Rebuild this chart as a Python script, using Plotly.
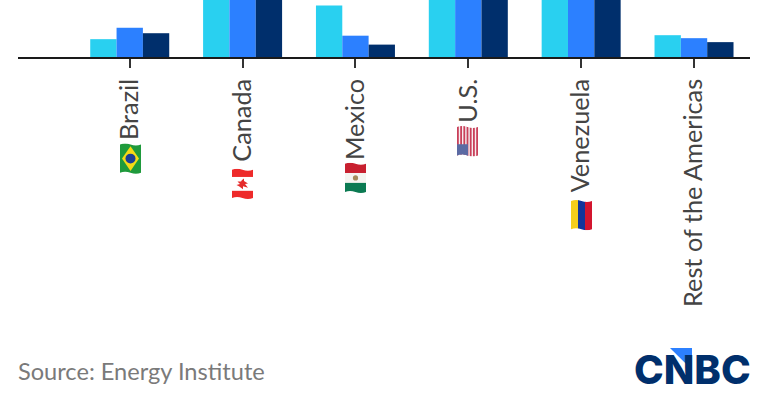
import base64
import plotly.graph_objects as go

W, H = 768, 402
AXIS_Y = 57.5

countries = ["Brazil", "Canada", "Mexico", "U.S.", "Venezuela", "Rest of the Americas"]
# the crop cuts off the top of the chart, units are relative
series_a = [18, 80, 52, 85, 90, 22]
series_b = [29.5, 80, 21.5, 85, 90, 19]
series_c = [24, 80, 12.5, 85, 90, 15]

colors = ["#29D0F0", "#2C80FF", "#002F6C"]


def px_y(y):
    # paper coords relative to the plot area, which ends at AXIS_Y
    return 1 - y / AXIS_Y


WAVE = "M0 1.2 Q5 -0.8 10.5 1.2 T21 1.2 L21 29.8 Q16 31.8 10.5 29.8 T0 29.8 Z"

flags = {
    "brazil": '<rect width="21" height="31" fill="#1F9A3C"/>'
              '<path d="M10.5 3 L19 15.5 L10.5 28 L2 15.5 Z" fill="#F5DA16"/>'
              '<circle cx="10.5" cy="15.5" r="5" fill="#1D3F94"/>',
    "canada": '<rect width="21" height="31" fill="#fff"/>'
              '<rect width="21" height="8.5" fill="#EE2A2A"/>'
              '<rect y="22.5" width="21" height="8.5" fill="#EE2A2A"/>'
              '<path d="M10 11.5 L12 10 L12 12.5 L16 15 L13 15.5 L16 19.5 L11 18 L11 21 L7 18 L4.5 16.5 L8 15.5 L5.5 13 L9 13 Z" fill="#E52B2B"/>',
    "mexico": '<rect width="21" height="31" fill="#F4F4F0"/>'
              '<rect width="21" height="10.5" fill="#C8202F"/>'
              '<rect y="20.5" width="21" height="10.5" fill="#0B7A52"/>'
              '<circle cx="10.5" cy="15.5" r="2.6" fill="#A58A5A"/>',
    "us": '<rect width="21" height="31" fill="#F6EEF0"/>'
          + "".join(f'<rect x="{i * 3.2}" width="1.8" height="31" fill="#C9405A"/>' for i in range(7))
          + '<rect y="18.5" width="11" height="12.5" fill="#5B6AA3"/>',
    "venezuela": '<rect width="7.5" height="31" fill="#F5CE1B"/>'
                 '<rect x="7" width="7.5" height="31" fill="#12359A"/>'
                 '<rect x="14" width="7" height="31" fill="#D3152E"/>',
}

flag_pos = {
    "brazil": (120, 144.5),
    "canada": (232, 170),
    "mexico": (345, 164),
    "us": (457, 127),
    "venezuela": (571, 201.5),
}


def flag_uri(body):
    svg = ('<svg xmlns="http://www.w3.org/2000/svg" width="21" height="31" viewBox="0 0 21 31">'
           f'<clipPath id="c"><path d="{WAVE}"/></clipPath><g clip-path="url(#c)">{body}</g></svg>')
    return "data:image/svg+xml;base64," + base64.b64encode(svg.encode()).decode()


fig = go.Figure()
for name, vals, col in zip(["a", "b", "c"], [series_a, series_b, series_c], colors):
    fig.add_trace(go.Bar(x=countries, y=vals, name=name, marker=dict(color=col, line_width=0)))

images = []
for key, (fx, fy) in flag_pos.items():
    images.append(dict(
        source=flag_uri(flags[key]), xref="paper", yref="paper",
        x=(fx - 18) / (750 - 18), y=px_y(fy),
        sizex=21 / (750 - 18), sizey=31 / AXIS_Y,
        xanchor="left", yanchor="top", sizing="stretch", layer="above",
    ))

fig.update_layout(
    width=W, height=H,
    margin=dict(l=18, r=18, t=0, b=H - AXIS_Y, pad=0),
    paper_bgcolor="white", plot_bgcolor="white",
    barmode="group", bargap=0.3, bargroupgap=0,
    showlegend=False,
    font=dict(family="Lato"),
    images=images,
    xaxis=dict(
        type="category", range=[-0.99, 5.496],
        showgrid=False, zeroline=False, showline=True, linecolor="#1A1A1A", linewidth=1.5,
        ticks="outside", ticklen=9, tickwidth=1.5, tickcolor="#333333",
        tickangle=-90, tickfont=dict(family="Lato", size=25.3, color="#444444"),
        ticklabelstandoff=1,
    ),
    yaxis=dict(range=[0, AXIS_Y], visible=False, fixedrange=True),
    annotations=[
        dict(text="Source: Energy Institute", xref="paper", yref="paper",
             x=-0.003, y=px_y(374), xanchor="left", yanchor="middle", showarrow=False,
             font=dict(family="Lato", size=23.6, color="#7A7A7A")),
        dict(text="CNBC", xref="paper", yref="paper",
             x=(692.5 - 18) / (750 - 18), y=px_y(373), xanchor="center", yanchor="middle", showarrow=False,
             font=dict(family="Inter", size=40, color="#002F6C", weight=800)),
    ],
    shapes=[
        dict(type="path", xref="paper", yref="paper", layer="above", line_width=0, fillcolor="#2C80FF",
             path=f"M {(670 - 18) / 732} {px_y(351)} L {(692 - 18) / 732} {px_y(351)} L {(692 - 18) / 732} {px_y(373)} Z"),
    ],
)

fig.write_html("out.html", config={"displayModeBar": False}, post_script="document.body.style.margin='0';")
